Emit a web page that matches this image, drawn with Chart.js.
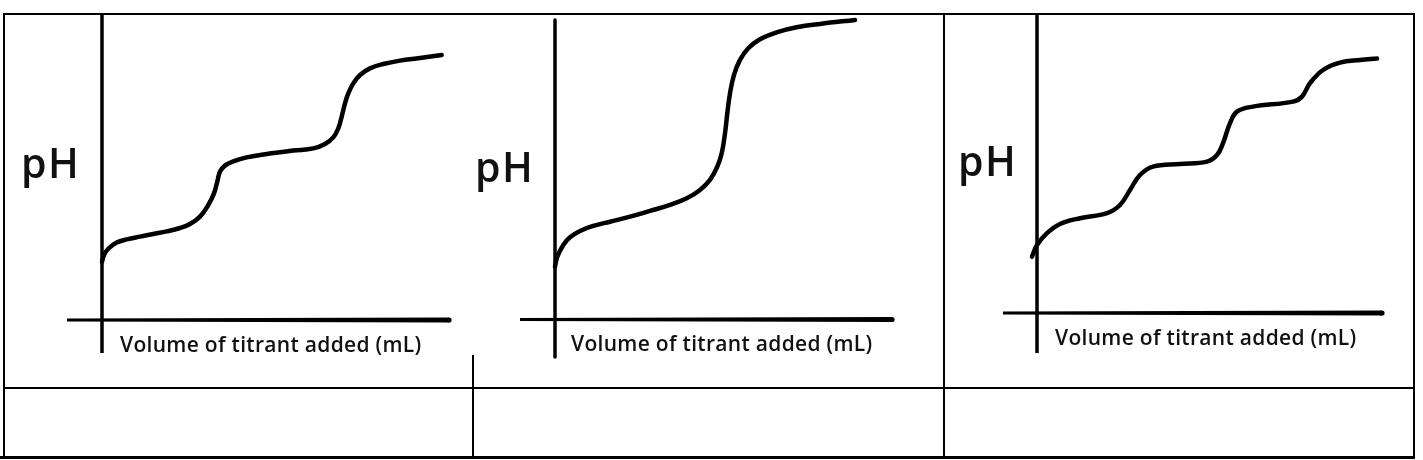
<!DOCTYPE html>
<html>
<head>
<meta charset="utf-8">
<script src="https://cdn.jsdelivr.net/npm/chart.js@4.4.1/dist/chart.umd.min.js"></script>
<style>
    html, body { margin: 0; padding: 0; background: #fff; }
    #page { position: relative; width: 1423px; height: 460px; overflow: hidden; font-family: "Open Sans", "Noto Sans", sans-serif; color: #111; }
    .rule { position: absolute; background: #000; }
    canvas { position: absolute; left: 0; top: 0; }
    .ph { position: absolute; font-size: 41px; line-height: 40px; font-weight: 600; letter-spacing: 1.5px; white-space: nowrap; }
    .xlab { position: absolute; font-size: 21px; line-height: 20px; font-weight: 600; letter-spacing: 0.3px; white-space: nowrap; }
</style>
</head>
<body>
<div id="page">
    <!-- table lines -->
    <div class="rule" style="left:3px;top:13px;width:1412px;height:2px"></div>
    <div class="rule" style="left:3px;top:13px;width:2px;height:446px"></div>
    <div class="rule" style="left:1413px;top:13px;width:2px;height:446px"></div>
    <div class="rule" style="left:472px;top:355px;width:2px;height:104px"></div>
    <div class="rule" style="left:943px;top:13px;width:2px;height:446px"></div>
    <div class="rule" style="left:3px;top:387px;width:1412px;height:2px"></div>
    <div class="rule" style="left:0px;top:456px;width:1415px;height:3px"></div>

    <canvas id="chart1" width="1423" height="460"></canvas>
    <canvas id="chart2" width="1423" height="460"></canvas>
    <canvas id="chart3" width="1423" height="460"></canvas>

    <div class="ph" style="left:21px;top:142px">pH</div>
    <div class="ph" style="left:475px;top:146px">pH</div>
    <div class="ph" style="left:958px;top:140px">pH</div>

    <div class="xlab" style="left:120px;top:334px">Volume of titrant added (mL)</div>
    <div class="xlab" style="left:571px;top:333px">Volume of titrant added (mL)</div>
    <div class="xlab" style="left:1055px;top:327px">Volume of titrant added (mL)</div>
</div>

<script>
// 曲线数据（体积 mL，pH）
const volume1 = [0, 0.2, 0.6, 1.47, 2.47, 3.8, 5.13, 6.47, 7.8, 8.8, 9.8, 10.63, 11.2, 11.53, 11.8, 12.3, 13.13, 14.47, 16.47, 19.13, 21.13, 22.3, 23.13, 23.63, 23.97, 24.3, 24.63, 25.13, 25.8, 26.8, 28.13, 29.8, 31.8, 33.97];
const ph1     = [2.9, 3.25, 3.55, 3.87, 4.03, 4.17, 4.3, 4.43, 4.6, 4.8, 5.17, 5.75, 6.33, 6.92, 7.42, 7.72, 7.93, 8.13, 8.3, 8.47, 8.58, 8.8, 9.13, 9.58, 10.17, 10.83, 11.33, 11.83, 12.25, 12.58, 12.8, 12.97, 13.1, 13.25];

const volume2 = [0, 0.23, 0.83, 1.5, 2.5, 3.83, 5.5, 7.5, 9.5, 11.5, 13.17, 14.5, 15.5, 16.23, 16.67, 17.0, 17.23, 17.5, 17.9, 18.5, 19.33, 20.5, 22.17, 24.17, 26.5, 30.0];
const ph2     = [2.64, 3.14, 3.73, 4.11, 4.43, 4.68, 4.89, 5.14, 5.43, 5.73, 6.06, 6.48, 6.98, 7.64, 8.31, 9.31, 10.31, 11.31, 12.23, 12.98, 13.56, 14.01, 14.36, 14.61, 14.78, 14.98];

const volume3 = [-0.5, 0, 1.0, 2.3, 4.3, 7.0, 8.3, 9.3, 10.3, 11.6, 14.3, 17.0, 18.0, 18.6, 19.3, 20.0, 21.6, 25.6, 26.5, 27.3, 28.6, 30.3, 32.3, 34.0];
const ph3     = [2.82, 3.4, 3.99, 4.45, 4.74, 4.99, 5.4, 6.15, 6.9, 7.32, 7.45, 7.57, 7.9, 8.49, 9.49, 10.07, 10.32, 10.57, 10.82, 11.49, 12.15, 12.52, 12.65, 12.72];

// 每个面板的绘图区位置（页面像素）与坐标原点
const panels = [
    { id: 'chart1', vol: volume1, ph: ph1, area: [67, 14, 449, 353], origin: [102, 320], yTopRound: false },
    { id: 'chart2', vol: volume2, ph: ph2, area: [520, 20, 892, 357], origin: [555, 319.5], yTopRound: true },
    { id: 'chart3', vol: volume3, ph: ph3, area: [1003, 14, 1382, 353], origin: [1037, 313], yTopRound: false }
];
const PX_PER_ML = 10;
const PX_PER_PH = 20;

// 手绘风格的坐标轴（过原点的十字线）
const crossAxes = {
    id: 'crossAxes',
    beforeDatasetsDraw(chart, args, opts) {
        const { ctx, chartArea, scales: { x, y } } = chart;
        const x0 = x.getPixelForValue(0);
        const y0 = y.getPixelForValue(0);
        ctx.save();
        ctx.fillStyle = '#000';
        ctx.strokeStyle = '#000';
        // 纵轴
        ctx.lineWidth = 3.5;
        ctx.lineCap = opts.topRound ? 'round' : 'butt';
        ctx.beginPath();
        ctx.moveTo(x0, chartArea.top);
        ctx.lineTo(x0, chartArea.bottom);
        ctx.stroke();
        // 横轴，左细右粗
        ctx.beginPath();
        ctx.moveTo(chartArea.left, y0 - 1.4);
        ctx.lineTo(chartArea.right, y0 - 2.6);
        ctx.lineTo(chartArea.right, y0 + 2.6);
        ctx.lineTo(chartArea.left, y0 + 1.4);
        ctx.closePath();
        ctx.fill();
        ctx.beginPath();
        ctx.arc(chartArea.right, y0, 2.6, 0, Math.PI * 2);
        ctx.fill();
        ctx.restore();
    }
};

function drawPanel(p) {
    const [left, top, right, bottom] = p.area;
    const [ox, oy] = p.origin;
    const points = p.vol.map((v, i) => ({ x: v, y: p.ph[i] }));

    new Chart(document.getElementById(p.id), {
        type: 'line',
        data: {
            datasets: [{
                data: points,
                borderColor: '#000',
                borderWidth: 4.5,
                borderCapStyle: 'round',
                borderJoinStyle: 'round',
                pointRadius: 0,
                tension: 0.4,
                clip: false,
                fill: false
            }]
        },
        options: {
            responsive: false,
            animation: false,
            devicePixelRatio: 1,
            layout: {
                padding: { left: left, top: top, right: 1423 - right, bottom: 460 - bottom }
            },
            plugins: {
                legend: { display: false },
                tooltip: { enabled: false },
                crossAxes: { topRound: p.yTopRound }
            },
            scales: {
                x: {
                    type: 'linear',
                    display: false,
                    min: (left - ox) / PX_PER_ML,
                    max: (right - ox) / PX_PER_ML
                },
                y: {
                    type: 'linear',
                    display: false,
                    min: (oy - bottom) / PX_PER_PH,
                    max: (oy - top) / PX_PER_PH
                }
            }
        },
        plugins: [crossAxes]
    });
}

panels.forEach(drawPanel);
</script>
</body>
</html>
